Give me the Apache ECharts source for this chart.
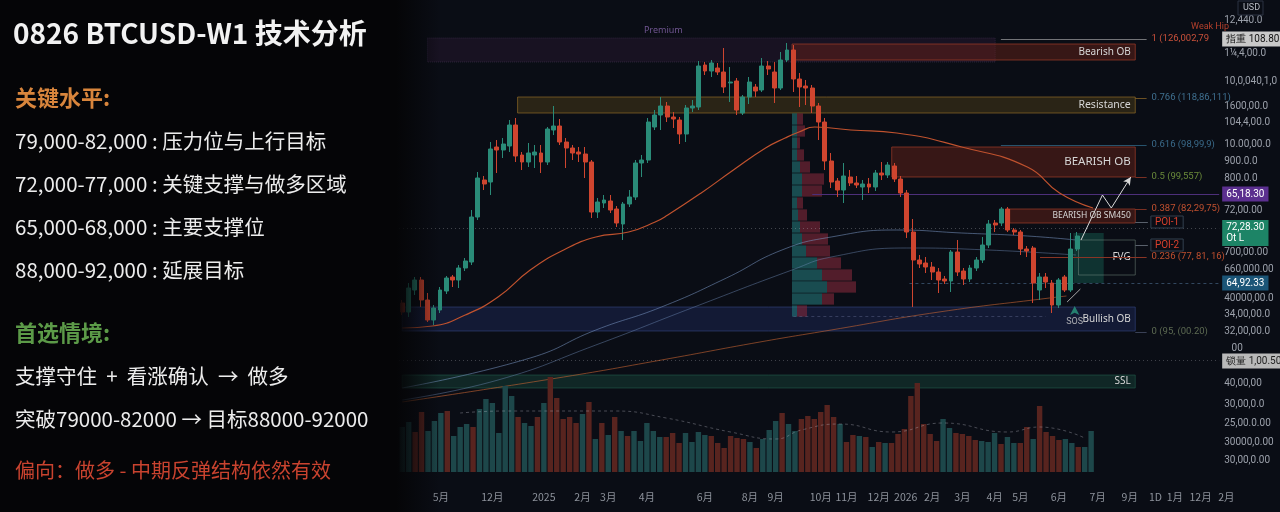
<!DOCTYPE html>
<html><head><meta charset="utf-8">
<script src="https://cdn.jsdelivr.net/npm/echarts@6/dist/echarts.min.js"></script>
<style>html,body{margin:0;padding:0;background:#0a0d15;}#c{width:1280px;height:512px;}</style>
</head><body><div id="c"></div>
<script>
// Weekly candles [open, close, low, high] in thousand USD
const candles = [
[60.25,58,57.25,61],[58,64,56.75,65.25],[63.5,66,62.25,66.75],[66,61,59.25,66.75],[61,56,55.5,62.75],
[56,59,54.75,59.75],[58.5,63.5,57.75,64.25],[63.25,66.5,62.5,67],[66.75,66,64.25,67.25],[66,69,64,69.75],
[69,70.75,68.25,71.5],[70.5,81.75,69.75,83.5],[81.75,91.5,81,93],[91,90,88.5,92],[90.5,98.75,87.25,100.5],
[99.25,98.5,92.75,101],[98.5,100,96.5,101.5],[99.5,104.75,98,106],[104.75,97,95.5,106.5],[97.25,95.5,93.5,98],
[95.5,97.75,94.25,100.25],[97.25,98,94,99.75],[97.75,95.5,92.75,99.75],[95.5,103.75,94.75,104.25],[103.5,104.5,102.25,109.5],
[104.5,100.5,99.75,106.25],[100.5,99,94,101.5],[99,97.75,96,99.75],[98,97.5,95.5,99.25],[97.5,95.5,91.5,99.25],
[95.5,83,81.5,96],[83,85.5,81.5,86.5],[85.25,86,84,87.25],[85.75,83.5,82.75,87.25],[83.75,80.25,79.25,84.5],
[80,85,76,85.5],[85,86.75,84.25,88.5],[86.75,95.25,86,96],[95.25,96,91.75,97.25],[96,105.5,95.25,106.5],
[104.25,107.25,103.5,108.5],[107.25,109.5,103.5,111.75],[109.5,106.75,105.5,110.5],[106.75,106.25,104,108],[106,102.5,100,106.75],
[102.5,109,100.5,109.75],[109,109.5,108,111],[109.25,119.5,108.5,120.75],[119.75,118.25,117.25,120.5],[118.25,120.25,116.75,121],
[119,118,117.25,120.25],[118,114.25,112.75,124],[115.25,115.5,110.5,119.25],[115.75,108.5,107.25,116.5],[107.75,111.75,107.25,112.25],
[111.75,115.5,110,116.75],[114.25,113.25,111.75,115],[113.5,119.5,113,121.5],[119.5,118.75,117.25,120.75],[118,114,110.25,120.5],
[114,121,113.5,123],[121,123.5,120.5,125.25],[123.5,116.25,113,124.75],[116.25,114.25,109.25,117.75],[114.5,114,109.75,116],
[114,109.5,107.75,114.75],[109.5,105.5,101,110.25],[105.5,95.75,93.5,106.5],[95.75,90.5,89,97.75],[90.75,88.5,86.75,91.5],
[88.5,92,85.25,95.25],[91.75,90.25,89.5,93.5],[90.25,89.75,89,92],[89.25,90,86,91],[90,89.25,87.75,91.5],
[89.25,92.75,88.25,93.5],[92.75,92.25,91,95.5],[92.25,94.75,91.5,95.5],[94.5,91.25,90.5,95.25],[91.25,87.75,86.75,92],
[87.75,78,76.5,88.5],[78,71,59.25,81.25],[71,70,69,72.25],[70.25,69.25,67.75,71.75],[69.25,68,66,70.5],
[68,66,62.75,69],[66.25,65.75,65,67],[65.75,73,63,73.5],[73,68,67,76],[68.25,66.25,64.75,69],
[66.25,69,65.5,69.75],[69,71,68.25,71.75],[71,74.75,70.25,76.75],[74.75,80,74,81],[80.25,79.75,78,81],
[80.25,83.75,79.5,84.25],[83.75,78.5,78,84.25],[78.5,78,77.25,79],[78,73.75,72.25,78.5],[73.75,73.25,71.75,74.5],
[74,65.25,60.25,74.5],[63.5,66.75,61,67.75],[66.75,65.5,64,67.75],[65.25,59.75,57.75,66],[59.75,66,59,66.5],
[66.75,63.5,63,67.25],[63.5,73.75,63,77.75],[73.75,77,73.25,78]
];
const volume = [45,50,40,60,41,51,59,61,36,45, 48,45,63,73,69,39,86,76,55,49, 46,55,69,95,74,53,55,49,58,70,
 33,49,37,55,41,36,41,31,49,41, 35,35,39,29,39,30,40,37,36,29, 24,36,34,33,30,24,33,42,51,59,
 48,41,53,56,53,60,67,55,48,30, 37,36,35,25,30,29,29,38,43,76, 89,48,38,31,53,44,39,38,36,32,
 31,30,39,28,35,29,29,45,33,66, 40,36,32,33,29,25,25,41];
const volumeUp = [1,1,0,0,1,1,1,0,1,1, 1,0,1,1,1,1,1,1,0,1, 1,0,1,0,0,0,0,0,1,0, 1,0,1,0,1,0,1,1,1,1,
 1,0,0,0,1,1,1,1,0,0, 0,0,0,0,1,0,1,1,1,0, 1,1,0,0,0,0,0,0,1,0, 0,1,0,1,0,1,0,0,0,0,
 0,0,0,0,1,1,0,0,0,0, 1,1,1,0,1,1,0,0,1,0, 0,0,0,1,1,0,1,1];
const volumeMA = [[9,59],[16,61],[33,61],[41,54],[51,40],[58,33],[62,42],[68,48],[76,40],[84,49],[94,40],[99,45],[106,34]];
const emaFast = [[0,54],[4.8,54.5],[10,57.25],[15.2,61.75],[20.3,68.5],[25.6,73.5],[30.7,76.75],[35.9,78],[40.1,80.5],[42.1,82.25],
 [47.4,87.75],[52.5,93.5],[57.6,99],[60.7,101.5],[62.9,103],[65.4,104.25],[68,104],[71.1,103.5],[78.4,102.75],[88.7,99.25],
 [99.1,94.25],[104.2,87.75],[109.5,84]];
const maMidA = [[0,39],[20.3,46.5],[30.7,53.5],[41.1,59.25],[51.4,66.5],[60.2,73.5],[68,76.75],[78.4,78.5],[88.7,77.75],[99.1,77],[106.8,76]];
const maMidB = [[0,36],[15.2,41],[30.7,49.75],[46.3,59.25],[61.8,68.5],[68,71.75],[80,74],[92.9,73.5],[106.8,72.25]];
const maSlow = [[0,35.5],[25.6,41.75],[41.1,46],[56.7,50.5],[68,53.5],[85.1,58],[102.6,61.5],[105.3,62]];
const projection = [[107.6,76],[111,87.25],[112.4,84],[115.5,91.75]];
const profileTeal = [5,5,5,5,8,10,10,5,6,8,10,14,25,30,35,30,5];
const profileRed  = [6,8,3,7,10,22,20,6,9,20,26,24,24,30,29,12,10];
const xTickValues = [6,14,22,28,32,38,47,54,58,65,69,74,78.2,82.3,87,92,96,102,108,113,117,120,124,128];
const xTickLabels = ['5月','12月','2025','2月','3月','4月','6月','8月','9月','10月','11月','12月','2026','2月','3月','4月','5月','6月','7月','9月','1D','1月','12月','2月'];
const yTickValues = [131,122.75,115.75,109.5,105.5,100,95.75,91.5,83.5,73,68.75,61.5,57.5,53.25,49,40.25,35,30.25,25.5,21];
const yTickLabels = ['12,440.0','1¼,4,00.0','10,0,040,1,0','1600,00.0','104,4,00.0','10.00,00.0','900.0.0','800.0.0','72,00.00','700,00.00','660,000.00','40000,00.0','34,00,00.0','32,00,00.0','   00','40,00,00','30,00,0.0','25,00.0.00','30000,0.00','30,00,0.00'];
// zones: [name, x1, x2, priceTop, priceBottom]
const zones = [
 ['Premium',4,94,126.5,120.5],
 ['Bearish OB',61.8,116.2,125,121],
 ['Resistance',18.3,116.2,111.75,107.75],
 ['BEARISH OB',77.6,116.2,99.25,91.75],
 ['BEARISH OB SM450',96.3,116.2,83.75,80.25],
 ['FVGFILL',106.4,111.2,77.75,65.25],
 ['FVG',107.2,116.2,76,67.25],
 ['Bullish OB',0,116.2,59.25,53.25],
 ['SSL',0,116.2,42.25,39]
];
// fib levels: [label, price, xStart]
const fibs = [
 ['1 (126,002,79',126.25,94.9],
 ['0.766 (118,86,111)',111.5,116.2],
 ['0.616 (98,99,9)',99.75,94.9],
 ['0.5 (99,557)',91.75,116.2],
 ['0.387 (82,29,75)',83.75,116.2],
 ['0.236 (77, 81, 16)',71.75,101.1],
 ['0 (95, (00.20)',53,116.2]
];
const pois = [['POI-1',80.5],['POI-2',74.75]];
// price tags: [label, price]
const tags = [['指重 108.80',126.25],['65,18.30',87.5],['72,28.30\nOt L',77.75],['64,92.33',65.25],['锁量 1,00.50',45.75]];
const panelLines = [
 '0826 BTCUSD-W1 技术分析','关键水平:','79,000-82,000 : 压力位与上行目标','72,000-77,000 : 关键支撑与做多区域',
 '65,000-68,000 : 主要支撑位','88,000-92,000 : 延展目标','首选情境:','支撑守住  +  看涨确认  →  做多',
 '突破79000-82000 → 目标88000-92000','偏向：做多 - 中期反弹结构依然有效'
];

const UP='#2a8b78', DOWN='#cf452f';
const zoneStyle = {
 'Premium':{fill:'rgba(80,40,90,0.2)',border:'rgba(110,80,130,0.3)',type:'dotted',lab:{position:'top',offset:[-48,2],color:'#6f5590',fontSize:9}},
 'Bearish OB':{fill:'rgba(110,35,25,0.45)',border:'rgba(160,60,40,0.7)',lab:{fontSize:10}},
 'Resistance':{fill:'rgba(110,85,25,0.33)',border:'rgba(150,110,40,0.65)',lab:{fontSize:10.5}},
 'BEARISH OB':{fill:'rgba(110,35,25,0.45)',border:'rgba(160,60,40,0.7)',lab:{fontSize:11.5}},
 'BEARISH OB SM450':{fill:'rgba(110,35,25,0.45)',border:'rgba(160,60,40,0.7)',lab:{fontSize:8.5}},
 'FVGFILL':{fill:'rgba(30,140,115,0.3)',border:'rgba(0,0,0,0)',lab:{show:false}},
 'FVG':{fill:'rgba(0,0,0,0)',border:'rgba(130,150,140,0.45)',lab:{fontSize:10}},
 'Bullish OB':{fill:'rgba(35,50,110,0.36)',border:'rgba(60,80,150,0.5)',lab:{fontSize:10}},
 'SSL':{fill:'rgba(25,80,65,0.4)',border:'rgba(40,110,90,0.45)',lab:{fontSize:10}}
};
const markAreaData = zones.map(z=>{
 const s=zoneStyle[z[0]];
 return [{coord:[z[1],z[3]],itemStyle:{color:s.fill,borderColor:s.border,borderWidth:1,borderType:s.type||'solid'},
   label:Object.assign({show:true,formatter:z[0],position:'insideRight',distance:5,color:'#d6d6d6',fontFamily:'Noto Sans'},s.lab)},
  {coord:[z[2],z[4]]}];
});
const fibColors=[['rgba(200,200,200,0.55)','#c8503a'],['rgba(150,110,40,0.7)','#3f7090'],['#27536d','#3a6a8a'],['rgba(160,60,40,0.75)','#6a8a3a'],['rgba(160,60,40,0.75)','#c0502f'],['#8a3525','#c0502f'],['rgba(90,100,130,0.6)','#5d6a52']];
const markLineData = [];
fibs.forEach((f,i)=>{
 markLineData.push([{coord:[f[2],f[1]],lineStyle:{color:fibColors[i][0],width:1,type:'solid'},
   label:{show:true,position:'end',distance:5,formatter:f[0],color:fibColors[i][1],fontSize:9.5,fontFamily:'Roboto'}},{coord:[118,f[1]]}]);
});
pois.forEach(p=>{
 markLineData.push([{coord:[116.2,p[1]],lineStyle:{color:'#59606b',width:1,type:'solid'},
   label:{show:true,position:'end',distance:3,formatter:p[0],color:'#d8402c',fontSize:10,borderColor:'#33404f',borderWidth:1,padding:[1,4],fontFamily:'Roboto'}},{coord:[118.2,p[1]]}]);
});
// reference lines
markLineData.push([{coord:[65,87.5],lineStyle:{color:'#4d2f7a',width:1.2,type:'solid'},label:{show:false}},{coord:[129.5,87.5]}]);
markLineData.push([{coord:[-0.5,79],lineStyle:{color:'rgba(200,200,210,0.3)',width:1,type:[1,3]},label:{show:false}},{coord:[129.5,79]}]);
markLineData.push([{coord:[80.4,65.25],lineStyle:{color:'rgba(90,130,170,0.5)',width:1,type:[3,3]},label:{show:false}},{coord:[129.5,65.25]}]);
markLineData.push([{coord:[-0.5,46],lineStyle:{color:'rgba(200,200,210,0.28)',width:1,type:[1,3]},label:{show:false}},{coord:[129.5,46]}]);
markLineData.push([{coord:[62,57],lineStyle:{color:'rgba(120,130,170,0.35)',width:1,type:[3,3]},label:{show:false}},{coord:[102,57]}]);
const tagStyles=[{bg:'#c9c9c9',fg:'#111'},{bg:'#5b2f8f',fg:'#fff'},{bg:'#1d8466',fg:'#fff'},{bg:'#1b5577',fg:'#fff'},{bg:'#b9b9b9',fg:'#222'}];
tags.forEach((t,i)=>{
 markLineData.push([{coord:[118.5,t[1]],lineStyle:{color:'rgba(0,0,0,0)',width:0},
   label:{show:true,position:'end',distance:3,formatter:t[0],color:tagStyles[i].fg,backgroundColor:tagStyles[i].bg,fontSize:10,padding:[2,4],lineHeight:11,fontFamily:'Roboto'}},{coord:[129.5,t[1]]}]);
});

const panelY=[33,98,141,184,227,270,333,376,419,470];
const panelKind=['title','h1','b','b','b','b','h2','b','b','red'];
const kindStyle={title:{font:'bold 28px "Noto Sans CJK SC"',fill:'#f2f2f2'},h1:{font:'bold 22px "Noto Sans CJK SC"',fill:'#d8853c'},
 h2:{font:'bold 22px "Noto Sans CJK SC"',fill:'#5c9a48'},b:{font:'20.5px "Noto Sans CJK SC"',fill:'#ececec'},red:{font:'20px "Noto Sans CJK SC"',fill:'#c9432f'}};
const graphics=[{type:'rect',shape:{x:0,y:0,width:440,height:512},z:100,silent:true,
 style:{fill:{type:'linear',x:0,y:0,x2:1,y2:0,colorStops:[{offset:0,color:'#050507'},{offset:0.9,color:'#050507'},{offset:1,color:'rgba(5,5,7,0)'}]}}}];
panelLines.forEach((t,i)=>{
 const k=kindStyle[panelKind[i]];
 graphics.push({type:'text',z:101,silent:true,style:{x:i===0?13:15,y:panelY[i],text:t,font:k.font,fill:k.fill,verticalAlign:'middle'}});
});
graphics.push({type:'rect',z:101,shape:{x:1238,y:1,width:25,height:14},style:{fill:'rgba(0,0,0,0)',stroke:'#2b3242',lineWidth:1}});
graphics.push({type:'text',z:101,style:{x:1243,y:8,text:'USD',font:'9px Roboto',fill:'#b8bcc4',verticalAlign:'middle'}});
graphics.push({type:'text',z:101,style:{x:1229,y:27,text:'Weak Hip',font:'9px Roboto',fill:'#b5402c',align:'right',verticalAlign:'middle'}});

const chart=echarts.init(document.getElementById('c'));
chart.setOption({
 backgroundColor:'#0a0d15',
 animation:false,
 grid:[{left:399,right:44,top:15,height:455},{left:399,right:44,top:372,height:100},{left:792,top:113,width:100,height:204}],
 xAxis:[
  {type:'value',gridIndex:0,min:-0.5,max:129.5,show:false},
  {type:'value',gridIndex:1,min:-0.5,max:129.5,axisLine:{show:false},axisTick:{show:false},splitLine:{show:false},
   axisLabel:{customValues:xTickValues,formatter:v=>xTickLabels[xTickValues.indexOf(v)],color:'#8d929b',fontSize:10.5,margin:20,fontFamily:'Noto Sans CJK SC'}},
  {type:'value',gridIndex:2,min:0,max:100,show:false}
 ],
 yAxis:[
  {type:'value',gridIndex:0,position:'right',min:18.5,max:132.25,axisLine:{show:false},axisTick:{show:false},splitLine:{show:false},
   axisLabel:{customValues:yTickValues,formatter:v=>yTickLabels[yTickValues.indexOf(v)],color:'#9ca1ab',fontSize:10,margin:5,fontFamily:'Roboto'}},
  {type:'value',gridIndex:1,min:0,max:100,show:false},
  {type:'category',gridIndex:2,inverse:true,data:profileTeal.map((v,i)=>'r'+i),show:false}
 ],
 graphic:{elements:graphics},
 series:[
  {type:'candlestick',xAxisIndex:0,yAxisIndex:0,barWidth:4.4,z:5,
   data:candles.map((c,i)=>[i,c[0],c[1],c[2],c[3]]),encode:{x:0,y:[1,2,3,4]},
   itemStyle:{color:UP,color0:DOWN,borderColor:UP,borderColor0:DOWN,borderWidth:1},
   markArea:{silent:true,data:markAreaData},
   markLine:{silent:true,symbol:['none','none'],data:markLineData}},
  {type:'bar',xAxisIndex:2,yAxisIndex:2,stack:'p',data:profileTeal,barCategoryGap:'6%',itemStyle:{color:'rgba(38,130,130,0.55)'},z:3},
  {type:'bar',xAxisIndex:2,yAxisIndex:2,stack:'p',data:profileRed,barCategoryGap:'6%',itemStyle:{color:'rgba(130,40,58,0.6)'},z:3},
  {type:'line',xAxisIndex:0,yAxisIndex:0,data:maSlow,smooth:true,showSymbol:false,lineStyle:{color:'rgba(200,100,50,0.6)',width:1},z:4},
  {type:'line',xAxisIndex:0,yAxisIndex:0,data:maMidB,smooth:true,showSymbol:false,lineStyle:{color:'rgba(110,140,185,0.45)',width:1},z:4},
  {type:'line',xAxisIndex:0,yAxisIndex:0,data:maMidA,smooth:true,showSymbol:false,lineStyle:{color:'rgba(120,150,195,0.55)',width:1},z:4},
  {type:'line',xAxisIndex:0,yAxisIndex:0,data:emaFast,smooth:true,showSymbol:false,lineStyle:{color:'#c0522e',width:1.2},z:6},
  {type:'line',xAxisIndex:0,yAxisIndex:0,z:7,
   data:projection.map((p,i)=>i===projection.length-1?{value:p,symbol:'arrow',symbolSize:[6,8],symbolRotate:-33}:{value:p,symbol:'none'}),
   lineStyle:{color:'#d8d8d8',width:1},itemStyle:{color:'#d8d8d8'}},
  {type:'line',xAxisIndex:0,yAxisIndex:0,z:7,data:[[105.4,60.5],[107.5,63.75]],showSymbol:false,lineStyle:{color:'#a8a8a8',width:1}},
  {type:'scatter',xAxisIndex:0,yAxisIndex:0,z:7,data:[[106.6,59.5]],symbol:'arrow',symbolSize:[7,9],itemStyle:{color:'#2a9a80'},
   label:{show:true,formatter:'SOS',position:'bottom',distance:2,color:'#cfcfcf',fontSize:9,fontFamily:'Roboto'}},
  {type:'bar',xAxisIndex:1,yAxisIndex:1,barWidth:5.4,z:5,
   data:volume.map((v,i)=>({value:[i,v],itemStyle:{color:volumeUp[i]?'#1d474a':'#58241f'}}))},
  {type:'line',xAxisIndex:1,yAxisIndex:1,data:volumeMA,smooth:true,showSymbol:false,z:8,lineStyle:{color:'rgba(190,190,200,0.35)',width:1,type:[3,3]}}
 ]
});
</script></body></html>
